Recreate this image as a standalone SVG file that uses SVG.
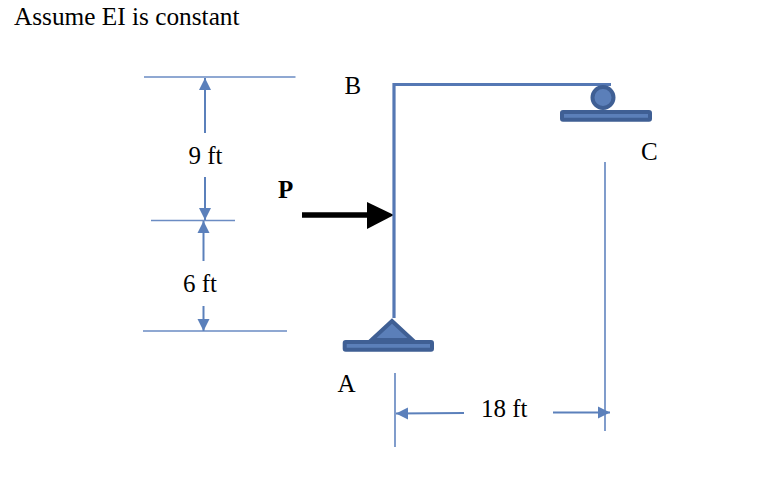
<svg xmlns="http://www.w3.org/2000/svg" width="780" height="498" viewBox="0 0 780 498">
<defs>
<marker id="ah" markerUnits="userSpaceOnUse" markerWidth="13" markerHeight="13" refX="12" refY="6.500" orient="auto"><path d="M0,0.500L12,6.500L0,12.500Z" fill="#5b80bb"/></marker>
</defs>
<style>
text{font-family:"Liberation Serif","Times New Roman",serif;fill:#000;font-size:25px}
.title{font-size:25.300px}
.dim{stroke:#6b8cc3;stroke-width:1.700;fill:none}
.shaft{stroke:#5b80bb;stroke-width:2;fill:none}
.beam{stroke:#5578b4;stroke-width:3.200;fill:none}
.sup{fill:#5b7fb9;stroke:#3f5f94;stroke-width:4}
.base{fill:#5b7fb9;stroke:#3f5f94;stroke-width:4;stroke-linejoin:round}
</style>
<rect width="780" height="498" fill="#fff"/>
<g id="title"><text class="title" x="14" y="25">Assume EI is constant</text></g>
<g id="connectors">
<path class="dim" d="M144 77H295.500M151 220.500H235M143 331H287M395 373V447M605 162V431"/>
<path class="shaft" d="M205 133V78" marker-end="url(#ah)"/>
<path class="shaft" d="M205 177V220" marker-end="url(#ah)"/>
<path class="shaft" d="M203.500 261V221" marker-end="url(#ah)"/>
<path class="shaft" d="M203.500 306V331" marker-end="url(#ah)"/>
<path class="shaft" d="M464 413L396 413.500" marker-end="url(#ah)"/>
<path class="shaft" d="M553 412.500H610" marker-end="url(#ah)"/>
<path d="M302 215H370" stroke="#000" stroke-width="5.500" fill="none"/>
<path d="M367 202L394 215L367 229Z" fill="#000"/>
</g>
<g id="frame"><path class="beam" d="M394 318V84.500H611"/></g>
<g id="support-A">
<path class="sup" d="M371.500 340L392 321L412.500 340Z"/>
<rect class="base" x="344.700" y="342" width="87.300" height="7.700" rx="1"/>
</g>
<g id="support-C">
<circle class="sup" cx="603" cy="97.500" r="10.500"/>
<rect class="base" x="562" y="112" width="88" height="7.700" rx="1"/>
</g>
<g id="label-B"><text x="344.500" y="94">B</text></g>
<g id="label-C"><text x="641" y="159.500">C</text></g>
<g id="label-A"><text x="337.500" y="392">A</text></g>
<g id="label-P"><text x="278" y="198" font-weight="bold">P</text></g>
<g id="label-9ft"><text x="188.500" y="164">9 ft</text></g>
<g id="label-6ft"><text x="183" y="292.300">6 ft</text></g>
<g id="label-18ft"><text x="481" y="417">18 ft</text></g>
</svg>
